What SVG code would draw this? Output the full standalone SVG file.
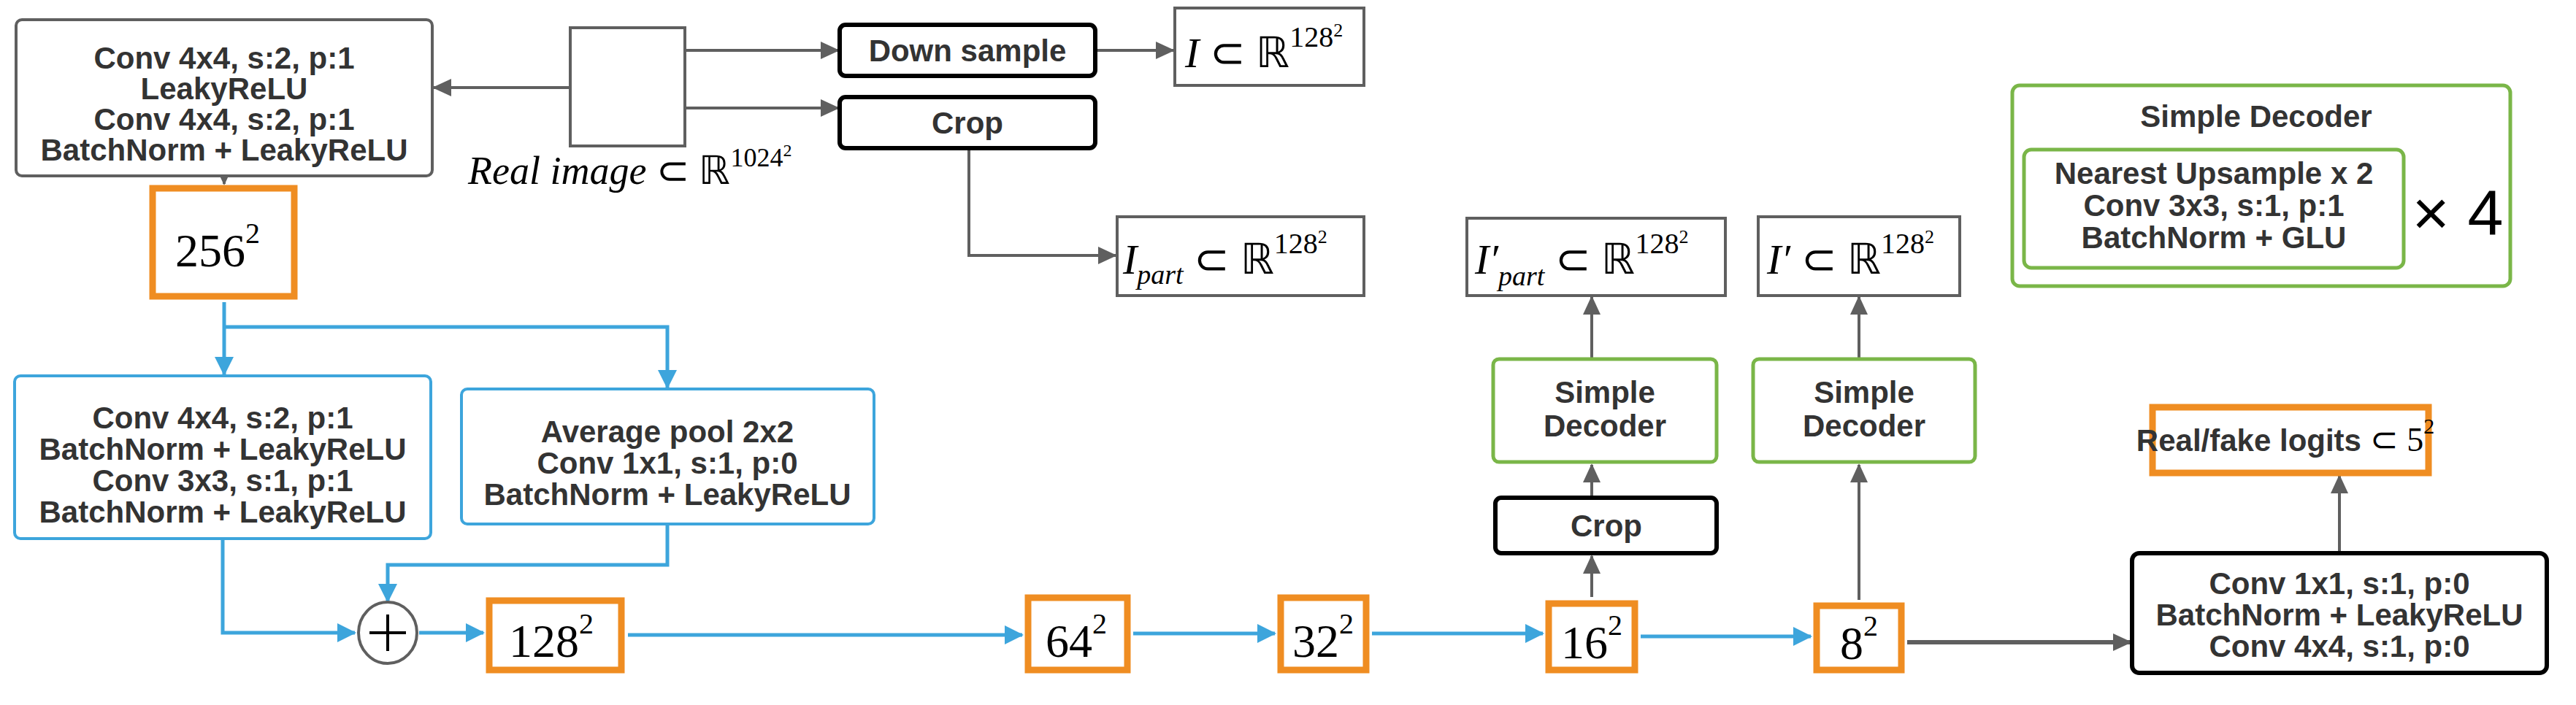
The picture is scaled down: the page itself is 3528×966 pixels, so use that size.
<svg xmlns="http://www.w3.org/2000/svg" width="3528" height="966" viewBox="0 0 3528 966">
<style>
.t{font-family:"Liberation Sans",Arial,sans-serif;font-weight:bold;font-size:42px;fill:#333;text-anchor:middle}
.m{font-family:"Liberation Serif","Times New Roman",serif;fill:#000}
.i{font-style:italic}
.g{fill:#fff;stroke:#5f5f5f;stroke-width:4}
.k{fill:#fff;stroke:#000;stroke-width:6}
.b{fill:#fff;stroke:#3da5dc;stroke-width:4}
.gr{fill:#fff;stroke:#7ab648;stroke-width:5}
.o{fill:#fff;stroke:#ef8d22;stroke-width:9}
.cg{fill:none;stroke:#5f5f5f;stroke-width:4}
.cb{fill:none;stroke:#3da5dc;stroke-width:5}
</style>
<defs>
<marker id="ag" markerUnits="userSpaceOnUse" markerWidth="26" markerHeight="24" refX="24" refY="12" orient="auto"><path d="M0,0L26,12L0,24z" fill="#5f5f5f"/></marker>
<marker id="ab" markerUnits="userSpaceOnUse" markerWidth="26" markerHeight="26" refX="24" refY="13" orient="auto"><path d="M0,0L26,13L0,26z" fill="#3da5dc"/></marker>
</defs>
<g id="connectors">
<path class="cg" d="M781,120H594" marker-end="url(#ag)"/>
<path class="cg" d="M938,69H1148" marker-end="url(#ag)"/>
<path class="cg" d="M938,148H1148" marker-end="url(#ag)"/>
<path class="cg" d="M1500,69H1607" marker-end="url(#ag)"/>
<path class="cg" d="M1327,203V350H1528" marker-end="url(#ag)"/>
<path class="cg" d="M307,241V252" marker-end="url(#ag)"/>
<path class="cb" d="M307,414V513" marker-end="url(#ab)"/>
<path class="cb" d="M307,448H914V531" marker-end="url(#ab)"/>
<path class="cb" d="M305,738V867H486" marker-end="url(#ab)"/>
<path class="cb" d="M914,718V774H531V824" marker-end="url(#ab)"/>
<path class="cb" d="M574,867H662" marker-end="url(#ab)"/>
<path class="cb" d="M860,870H1400" marker-end="url(#ab)"/>
<path class="cb" d="M1552,868H1746" marker-end="url(#ab)"/>
<path class="cb" d="M1879,868H2113" marker-end="url(#ab)"/>
<path class="cb" d="M2247,872H2480" marker-end="url(#ab)"/>
<path class="cg" d="M2612,880H2918" marker-end="url(#ag)" style="stroke-width:6"/>
<path class="cg" d="M2180,818V762" marker-end="url(#ag)"/>
<path class="cg" d="M2180,680V637" marker-end="url(#ag)"/>
<path class="cg" d="M2180,490V407" marker-end="url(#ag)"/>
<path class="cg" d="M2546,822V637" marker-end="url(#ag)"/>
<path class="cg" d="M2546,490V407" marker-end="url(#ag)"/>
<path class="cg" d="M3204,758V652" marker-end="url(#ag)"/>
</g>
<g id="encoder1"><rect class="g" x="22" y="27" width="570" height="214" rx="8"/>
<text class="t" x="307" y="94">Conv 4x4, s:2, p:1</text><text class="t" x="307" y="136">LeakyReLU</text><text class="t" x="307" y="178">Conv 4x4, s:2, p:1</text><text class="t" x="307" y="220">BatchNorm + LeakyReLU</text></g>
<g id="realimage"><rect class="g" x="781" y="38" width="157" height="162"/>
<text class="m i" x="641" y="252" font-size="54">Real image <tspan font-style="normal">⊂ ℝ</tspan><tspan font-style="normal" font-size="36" dy="-24">1024</tspan><tspan font-style="normal" font-size="24" dy="-14">2</tspan></text></g>
<g id="downsample"><rect class="k" x="1150" y="34" width="350" height="70" rx="8"/><text class="t" x="1325" y="84">Down sample</text></g>
<g id="crop1"><rect class="k" x="1150" y="133" width="350" height="70" rx="8"/><text class="t" x="1325" y="183">Crop</text></g>
<g id="I"><rect class="g" x="1609" y="11" width="259" height="106"/><text class="m" x="1623" y="92" font-size="58"><tspan font-style="italic">I</tspan> ⊂ ℝ<tspan font-size="40" dy="-28">128</tspan><tspan font-size="26" dy="-14">2</tspan></text></g>
<g id="Ipart"><rect class="g" x="1530" y="297" width="338" height="108"/><text class="m" x="1538" y="375" font-size="58"><tspan font-style="italic">I</tspan><tspan font-style="italic" font-size="38" dy="14">part</tspan><tspan dy="-14"> ⊂ ℝ</tspan><tspan font-size="40" dy="-28">128</tspan><tspan font-size="26" dy="-14">2</tspan></text></g>
<g id="n256"><rect class="o" x="209" y="258" width="194" height="148"/><text class="m" x="298" y="365" font-size="64" text-anchor="middle">256<tspan font-size="40" dy="-32">2</tspan></text></g>
<g id="encoder2"><rect class="b" x="20" y="515" width="570" height="223" rx="8"/>
<text class="t" x="305" y="587">Conv 4x4, s:2, p:1</text><text class="t" x="305" y="630">BatchNorm + LeakyReLU</text><text class="t" x="305" y="673">Conv 3x3, s:1, p:1</text><text class="t" x="305" y="716">BatchNorm + LeakyReLU</text></g>
<g id="avgpool"><rect class="b" x="632" y="533" width="565" height="185" rx="8"/>
<text class="t" x="914" y="606">Average pool 2x2</text><text class="t" x="914" y="649">Conv 1x1, s:1, p:0</text><text class="t" x="914" y="692">BatchNorm + LeakyReLU</text></g>
<g id="add"><ellipse cx="531" cy="867" rx="40" ry="42" fill="#fff" stroke="#5f5f5f" stroke-width="4"/><path d="M531,842V892M506,867H556" stroke="#000" stroke-width="4"/></g>
<g id="n128"><rect class="o" x="670" y="823" width="181" height="95"/><text class="m" x="755" y="900" font-size="64" text-anchor="middle">128<tspan font-size="40" dy="-32">2</tspan></text></g>
<g id="n64"><rect class="o" x="1408" y="819" width="136" height="99"/><text class="m" x="1474" y="900" font-size="64" text-anchor="middle">64<tspan font-size="40" dy="-32">2</tspan></text></g>
<g id="n32"><rect class="o" x="1754" y="819" width="117" height="99"/><text class="m" x="1812" y="900" font-size="64" text-anchor="middle">32<tspan font-size="40" dy="-32">2</tspan></text></g>
<g id="n16"><rect class="o" x="2121" y="827" width="118" height="91"/><text class="m" x="2180" y="902" font-size="64" text-anchor="middle">16<tspan font-size="40" dy="-32">2</tspan></text></g>
<g id="n8"><rect class="o" x="2488" y="830" width="116" height="88"/><text class="m" x="2546" y="903" font-size="64" text-anchor="middle">8<tspan font-size="40" dy="-32">2</tspan></text></g>
<g id="crop2"><rect class="k" x="2048" y="682" width="303" height="76" rx="8"/><text class="t" x="2200" y="735">Crop</text></g>
<g id="sd1"><rect class="gr" x="2045" y="492" width="306" height="141" rx="8"/><text class="t" x="2198" y="552">Simple</text><text class="t" x="2198" y="598">Decoder</text></g>
<g id="sd2"><rect class="gr" x="2401" y="492" width="304" height="141" rx="8"/><text class="t" x="2553" y="552">Simple</text><text class="t" x="2553" y="598">Decoder</text></g>
<g id="Ippart"><rect class="g" x="2009" y="299" width="354" height="106"/><text class="m" x="2020" y="375" font-size="58"><tspan font-style="italic">I′</tspan><tspan font-style="italic" font-size="38" dy="16">part</tspan><tspan dy="-16"> ⊂ ℝ</tspan><tspan font-size="40" dy="-28">128</tspan><tspan font-size="26" dy="-14">2</tspan></text></g>
<g id="Ip"><rect class="g" x="2408" y="297" width="276" height="108"/><text class="m" x="2420" y="375" font-size="58"><tspan font-style="italic">I′</tspan> ⊂ ℝ<tspan font-size="40" dy="-28">128</tspan><tspan font-size="26" dy="-14">2</tspan></text></g>
<g id="legend"><rect class="gr" x="2756" y="117" width="682" height="275" rx="10"/>
<text class="t" x="3090" y="174">Simple Decoder</text>
<rect class="gr" x="2772" y="205" width="520" height="162" rx="10"/>
<text class="t" x="3032" y="252">Nearest Upsample x 2</text><text class="t" x="3032" y="296">Conv 3x3, s:1, p:1</text><text class="t" x="3032" y="340">BatchNorm + GLU</text>
<text x="3366" y="322" font-family="Liberation Sans,Arial,sans-serif" font-size="88" fill="#000" text-anchor="middle">× 4</text></g>
<g id="logits"><rect class="o" x="2948" y="558" width="378" height="90"/><text class="t" x="3130" y="618" font-size="35">Real/fake logits <tspan class="m" font-weight="normal" font-size="46" fill="#000">⊂ 5</tspan><tspan class="m" font-weight="normal" font-size="30" fill="#000" dy="-24">2</tspan></text></g>
<g id="head"><rect class="k" x="2920" y="758" width="568" height="164" rx="10"/>
<text class="t" x="3204" y="814">Conv 1x1, s:1, p:0</text><text class="t" x="3204" y="857">BatchNorm + LeakyReLU</text><text class="t" x="3204" y="900">Conv 4x4, s:1, p:0</text></g>
</svg>
